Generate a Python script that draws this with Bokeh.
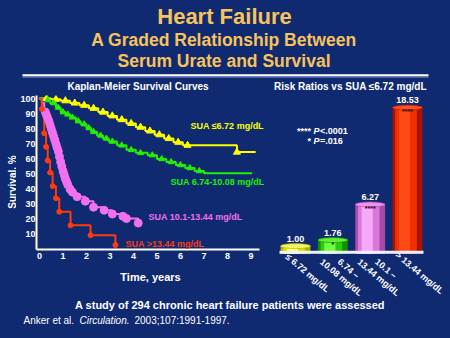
import math
import re
from bokeh.plotting import figure
from bokeh.layouts import column, row
from bokeh.models import Range1d, FixedTicker, Label, ColumnDataSource, InlineStyleSheet
from bokeh.core.properties import value
from bokeh.transform import dodge
from bokeh.embed import file_html
from bokeh.resources import INLINE

# ---------------- data ----------------
title = "Heart Failure"
subtitle = ["A Graded Relationship Between", "Serum Urate and Survival"]
km_title = "Kaplan-Meier Survival Curves"
bar_title = "Risk Ratios vs SUA \u22646.72 mg/dL"
y_label = "Survival, %"
x_label = "Time, years"
y_ticks = [10, 20, 30, 40, 50, 60, 70, 80, 90, 100]
x_ticks = [0, 1, 2, 3, 4, 5, 6, 7, 8, 9]

group_names = ["SUA \u22646.72 mg/dL", "SUA 6.74-10.08 mg/dL", "SUA 10.1-13.44 mg/dL", "SUA >13.44 mg/dL"]

yellow_t = [0, 0.5, 0.9, 1.3, 1.7, 2.1, 2.5, 2.9, 3.3, 3.7, 4.1, 4.5, 4.9, 5.3, 5.7, 6.1, 8.4, 9.2]
yellow_s = [100, 99.5, 98.5, 97, 95.5, 93.5, 91, 88.5, 86, 83.5, 81, 78.5, 76, 73.5, 71, 69, 64.5, 64.5]
yellow_cens_t = [0.3, 0.7, 1.1, 1.5, 1.9, 2.3, 2.7, 3.1, 3.5, 3.9, 4.3, 4.7, 5.1, 5.5, 5.9, 6.3, 8.4]
yellow_cens_s = [100, 99.5, 98.5, 97, 95.5, 93.5, 91, 88.5, 86, 83.5, 81, 78.5, 76, 73.5, 71, 69, 64.5]

green_t = [0, 0.2, 0.45, 0.7, 0.9, 1.1, 1.3, 1.55, 1.75, 2.0, 2.2, 2.45, 2.7, 2.95, 3.3, 3.7, 4.1, 4.6, 5.0, 5.4, 5.8, 6.2, 6.6, 7.0, 9.05]
green_s = [100, 99, 97, 94, 91, 89.5, 87.5, 85, 83, 80.5, 78, 75.5, 73.5, 71.5, 69, 66, 64, 62.5, 60, 58, 56, 54, 52, 50.5, 50.5]
green_cens_t = [0.35, 0.6, 0.8, 1.0, 1.2, 1.4, 1.65, 1.9, 2.1, 2.3, 2.6, 2.85, 3.1, 3.5, 3.9, 4.3, 4.8, 5.2, 5.6, 6.0, 6.4, 6.8]
green_cens_s = [99, 97, 94, 91, 89.5, 87.5, 85, 83, 80.5, 78, 75.5, 73.5, 71.5, 69, 66, 64, 62.5, 60, 58, 56, 54, 52]

magenta_t = [0, 0.1, 0.2, 0.3, 0.4, 0.5, 0.6, 0.7, 0.8, 0.9, 1.0, 1.1, 1.2, 1.3, 1.45, 1.6, 1.95, 2.3, 2.75, 3.1, 3.55, 3.7, 4.2]
magenta_s = [100, 97, 93, 89, 85, 80, 75, 70, 65, 58, 52, 47, 43, 40, 37, 35, 32, 28, 26, 23.5, 22, 20.5, 17.5]
magenta_cens_t = [0.25, 0.3, 0.35, 0.4, 0.45, 0.5, 0.55, 0.6, 0.65, 0.7, 0.75, 0.8, 0.85, 0.9, 0.95, 1.0, 1.05, 1.1,
                  1.15, 1.2, 1.3, 1.4, 1.6, 1.95, 2.3, 2.75, 3.1, 3.55, 3.7, 4.2]
magenta_cens_s = [91, 89, 87, 85, 82.5, 80, 77.5, 75, 72.5, 70, 67.5, 65, 61.5, 58, 55, 52, 49.5, 47,
                  45, 43, 40, 38, 35, 32, 28, 26, 23.5, 22, 20.5, 17.5]

red_t = [0, 0.1, 0.2, 0.28, 0.35, 0.45, 0.56, 0.7, 0.84, 1.32, 2.17, 3.23]
red_s = [100, 93, 77, 68, 59, 51, 42, 34, 25, 16, 9.5, 3]

bar_categories = ["\u2264 6.72 mg/dL", "6.74 \u2013\n10.08 mg/dL", "10.1 \u2013\n13.44 mg/dL", "> 13.44 mg/dL"]
risk_ratios = [1.00, 1.76, 6.27, 18.53]
ratio_labels = ["1.00", "1.76", "6.27", "18.53"]
signif_marks = ["", "*", "****", "****"]
p_marks = ["****", "*"]
p_texts = ["<.0001", "=.016"]

footer = "A study of 294 chronic heart failure patients were assessed"
cite = ["Anker et al. ", "Circulation.", " 2003;107:1991-1997."]

# ---------------- styles ----------------
BG = "#102a72"
GOLD = "#f8c35a"
FONT = "Liberation Sans"
YEL, GRN, MAG, RED = "#ffff00", "#22f000", "#f070f0", "#ff3a10"
bar_edge = ["#b0b000", "#109000", "#a848a8", "#a81200"]
bar_mid = ["#dcdc10", "#28cc08", "#d878d8", "#f03000"]
bar_light = ["#ffff70", "#70ff40", "#f8a8f8", "#ff4a18"]
bar_top = ["#f4f460", "#60f030", "#f090f0", "#ff5020"]
BG_CSS = InlineStyleSheet(css=f":host {{ background-color: {BG}; }}")


def lab(fig, txt, x, y, size, color="white", align="left", style="bold", angle=0.0, named=True):
    kw = dict(x=x, y=y, text=txt, text_font=FONT, text_font_size=f"{size}px",
              text_color=color, text_align=align, text_baseline="middle",
              text_font_style=style, angle=angle)
    if named:
        kw.update(x_range_name="px", y_range_name="px")
    fig.add_layout(Label(**kw))


def blank(w, h, xr, yr):
    f = figure(width=w, height=h, x_range=xr, y_range=yr, output_backend="svg",
               toolbar_location=None, x_axis_location=None, y_axis_location=None,
               min_border=0, background_fill_color=BG, border_fill_color=BG,
               outline_line_color=None, frame_align=False,
               styles={"background-color": BG}, stylesheets=[BG_CSS])
    f.grid.visible = False
    return f


# ---------------- header (also holds the two panel titles) ----------------
head = blank(450, 94, Range1d(0, 450), Range1d(94, 0))
lab(head, title, 224, 15.7, 22, GOLD, "center", named=False)
lab(head, subtitle[0], 223.5, 39.2, 17.5, GOLD, "center", named=False)
lab(head, subtitle[1], 223.5, 60, 17.5, GOLD, "center", named=False)
head.line([22, 428], [74.6, 74.6], line_color="white", line_width=1.6)
head.line([22, 428], [76.3, 76.3], line_color="#8a9bd0", line_width=1.2)
lab(head, km_title, 137.5, 85.5, 10, "white", "center", named=False)
lab(head, bar_title, 350, 85.5, 10, "white", "center", named=False)

# ---------------- y label strip ----------------
strip = blank(16, 204, Range1d(0, 16), Range1d(298, 94))
lab(strip, y_label, 11.5, 181.5, 10, "white", "center", angle=math.pi / 2, named=False)

# ---------------- Kaplan-Meier ----------------
km = figure(width=254, height=204, x_range=Range1d(-0.128, 9.574), y_range=Range1d(0, 102),
            output_backend="svg", toolbar_location=None, frame_align=False,
            min_border_left=20, min_border_right=6, min_border_top=1, min_border_bottom=49,
            background_fill_color=BG, border_fill_color=BG, outline_line_color=None,
            styles={"background-color": BG}, stylesheets=[BG_CSS])
km.extra_x_ranges = {"px": Range1d(36, 264)}
km.extra_y_ranges = {"px": Range1d(249, 95)}
km.grid.visible = False
km.xaxis.ticker = FixedTicker(ticks=x_ticks)
km.yaxis.ticker = FixedTicker(ticks=y_ticks)
km.xaxis.bounds = (-0.128, 9.36)
for ax in (km.xaxis, km.yaxis):
    ax.major_tick_in = 0
    ax.major_tick_out = 0
    ax.minor_tick_in = 0
    ax.minor_tick_out = 0
    ax.axis_line_color = "white"
    ax.axis_line_width = 2
    ax.major_label_text_color = "white"
    ax.major_label_text_font = FONT
    ax.major_label_text_font_style = "bold"
    ax.major_label_text_font_size = "9px"
km.yaxis.major_label_standoff = 1
km.xaxis.major_label_standoff = 3
km.xaxis.axis_label = x_label
km.xaxis.axis_label_standoff = 9
km.xaxis.axis_label_text_color = "white"
km.xaxis.axis_label_text_font = FONT
km.xaxis.axis_label_text_font_style = "bold"
km.xaxis.axis_label_text_font_size = "11px"

km.step(yellow_t, yellow_s, mode="after", line_color=YEL, line_width=2)
km.step(green_t, green_s, mode="after", line_color=GRN, line_width=2)
km.step(magenta_t, magenta_s, mode="after", line_color=MAG, line_width=2)
km.step(red_t, red_s, mode="after", line_color=RED, line_width=2)
km.scatter(yellow_cens_t, yellow_cens_s, marker="triangle", size=7, color=YEL)
km.scatter(green_cens_t, green_cens_s, marker="triangle", size=6, color=GRN)
km.scatter(magenta_cens_t, magenta_cens_s, marker="circle", size=8, color=MAG)
km.scatter(red_t[1:], red_s[1:], marker="circle", size=5, color=RED)

lab(km, group_names[0], 190, 125, 9, YEL)
lab(km, group_names[1], 170, 181.3, 9, GRN)
lab(km, group_names[2], 148, 216.3, 9, MAG)
lab(km, group_names[3], 125, 243, 9, RED)

# ---------------- bar chart ----------------
bars = blank(180, 204, Range1d(-0.67, 4.152), Range1d(-5.633, 20.19))
bars.extra_x_ranges = {"px": Range1d(270, 450)}
bars.extra_y_ranges = {"px": Range1d(298, 94)}
src = ColumnDataSource(dict(x=list(range(len(risk_ratios))), top=risk_ratios, lab=ratio_labels,
                            cat=bar_categories, sig=signif_marks, edge=bar_edge, mid=bar_mid,
                            light=bar_light, cap=bar_top))
bars.vbar(x="x", top="top", bottom=0, width=0.8, source=src, fill_color="edge", line_color=None)
bars.vbar(x=dodge("x", -0.04, range=bars.x_range), top="top", bottom=0, width=0.58, source=src,
          fill_color="mid", line_color=None)
bars.vbar(x=dodge("x", -0.08, range=bars.x_range), top="top", bottom=0, width=0.3, source=src,
          fill_color="light", line_color=None)
bars.ellipse(x="x", y="top", width=0.8, height=5, height_units="screen", source=src,
             fill_color="cap", line_color="edge", line_width=0.6)
bars.text(x="x", y="top", text="sig", source=src, y_offset=4, text_align="center",
          text_baseline="middle", text_font=value(FONT), text_font_style="bold",
          text_font_size="7px", text_color="#2a0a10")
bars.text(x="x", y="top", text="lab", source=src, y_offset=-7.5, text_align="center",
          text_baseline="middle", text_font=value(FONT), text_font_style="bold",
          text_font_size="9px", text_color="white")
bars.line([279, 423], [251.75, 251.75], x_range_name="px", y_range_name="px",
          line_color="#f0f0ff", line_width=3)
bars.text(x="x", y=0, text="cat", source=src, angle=-0.70, x_offset=12, y_offset=19,
          text_align="center", text_baseline="middle", text_font=value(FONT),
          text_font_style="bold", text_font_size="9px", text_color="white", text_line_height=1.15)

lab(bars, p_marks[0], 310.5, 130, 9, "white", "right")
lab(bars, "P", 313, 130, 9, "white", style="bold italic")
lab(bars, p_texts[0], 319.5, 130, 9, "white")
lab(bars, p_marks[1], 310.5, 140, 9, "white", "right")
lab(bars, "P", 313, 140, 9, "white", style="bold italic")
lab(bars, p_texts[1], 319.5, 140, 9, "white")

# ---------------- footer ----------------
foot = blank(450, 40, Range1d(0, 450), Range1d(338, 298))
lab(foot, footer, 229.5, 304, 11, "white", "center", named=False)
lab(foot, cite[0], 23, 320, 10, "white", style="normal", named=False)
lab(foot, cite[1], 79, 320, 10, "white", style="italic", named=False)
lab(foot, cite[2], 134, 320, 10, "white", style="normal", named=False)

middle = row(strip, km, bars, spacing=0, styles={"background-color": BG}, stylesheets=[BG_CSS])
layout = column(head, middle, foot, spacing=0, styles={"background-color": BG}, stylesheets=[BG_CSS])
html = file_html(layout, INLINE)
html = re.sub(r"<body[^>]*>", f'<body style="margin:0;background-color:{BG};">', html, count=1)
html = html.replace("</head>", f"<style>html,body{{background-color:{BG};margin:0;}}</style></head>", 1)
open("out.html", "w").write(html)
